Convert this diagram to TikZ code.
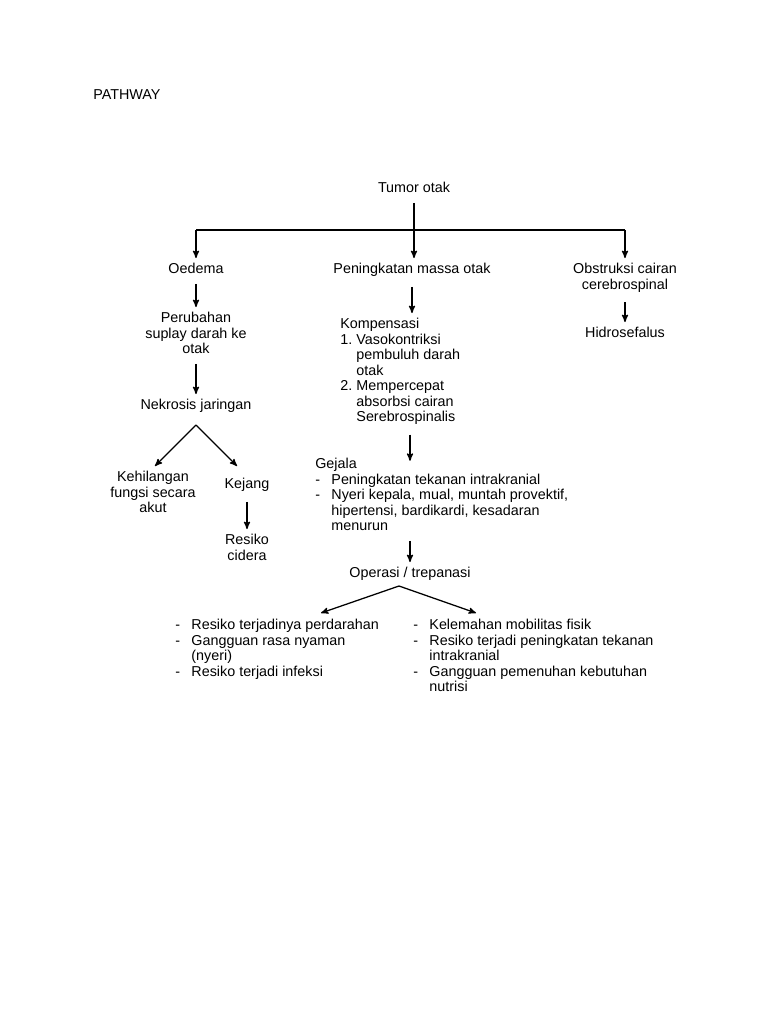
\documentclass[tikz,border=0pt]{standalone}
\usepackage{fontspec}
\setmainfont{Liberation Sans}
\usepackage{tikz}
\usetikzlibrary{positioning,arrows,calc}
\tikzstyle{every text node part}=[font=\fontsize{10.2}{11}\selectfont]
\tikzstyle{txt}=[inner sep=0pt,align=center,anchor=north]
\tikzstyle{lst}=[inner sep=0pt,align=left,anchor=north west]
\tikzstyle{flow}=[->,line width=0.9pt,shorten <=7pt,shorten >=3.5pt]
\tikzstyle{split}=[->,line width=0.9pt]
\newcommand{\listitm}[1]{\makebox[11.5pt][l]{#1}}
\newcommand{\listind}{\makebox[11.5pt]{}}

\begin{document}
\begin{tikzpicture}[x=0.025cm,y=-0.025cm,>=stealth']
      \useasboundingbox (0,0) rectangle (768,1024);

      \node [inner sep=0pt,anchor=west] (pathway) at (93,95) {PATHWAY};

      \node [txt] (tumor) at (414,182) {Tumor otak};
      \node [txt] (oedema) at (196,263) {Oedema};
      \node [txt] (massa) at (412,263) {Peningkatan massa otak};
      \node [txt] (obstruksi) at (625,263) {Obstruksi cairan\\cerebrospinal};

      \node [txt] (perubahan) at (196,312) {Perubahan\\suplay darah ke\\otak};
      \node [txt] (nekrosis) at (196,399) {Nekrosis jaringan};
      \node [txt] (kehilangan) at (153,471) {Kehilangan\\fungsi secara\\akut};
      \node [txt] (kejang) at (247,478) {Kejang};
      \node [txt] (cidera) at (247,534) {Resiko\\cidera};

      \node [txt] (hidro) at (625,327) {Hidrosefalus};

      \node [lst] (kompensasi) at (340,318) {Kompensasi\\
        \listitm{1.}Vasokontriksi\\ \listind pembuluh darah\\ \listind otak\\
        \listitm{2.}Mempercepat\\ \listind absorbsi cairan\\ \listind Serebrospinalis};
      \node [lst] (gejala) at (315,458) {Gejala\\
        \listitm{-}Peningkatan tekanan intrakranial\\
        \listitm{-}Nyeri kepala, mual, muntah provektif,\\
        \listind hipertensi, bardikardi, kesadaran\\ \listind menurun};

      \node [txt] (operasi) at (410,567) {Operasi / trepanasi};
      \node [lst,font=\fontsize{10.2}{10.5}\selectfont] (kiri) at (175,619) {\listitm{-}Resiko terjadinya perdarahan\\
        \listitm{-}Gangguan rasa nyaman\\ \listind (nyeri)\\
        \listitm{-}Resiko terjadi infeksi};
      \node [lst,font=\fontsize{10.2}{10.5}\selectfont] (kanan) at (413,619) {\listitm{-}Kelemahan mobilitas fisik\\
        \listitm{-}Resiko terjadi peningkatan tekanan\\ \listind intrakranial\\
        \listitm{-}Gangguan pemenuhan kebutuhan\\ \listind nutrisi};

      \coordinate (barL) at (196,230);
      \coordinate (barR) at (625,230);
      \coordinate (nsplit) at (196,425);
      \coordinate (nL) at (155,466);
      \coordinate (nR) at (237,466);
      \coordinate (osplit) at (399,586);
      \coordinate (opL) at (321,613);
      \coordinate (opR) at (476,613);

      \draw [line width=0.9pt] (barL) -- (barR);
      \draw [flow] (tumor) -- (tumor |- massa.north);
      \draw [flow,shorten <=0pt] (barL) -- (oedema);
      \draw [flow,shorten <=0pt] (barR) -- (obstruksi);

      \draw [flow] (oedema) -- (perubahan);
      \draw [flow] (perubahan) -- (nekrosis);
      \draw [split] (nsplit) -- (nL);
      \draw [split] (nsplit) -- (nR);
      \draw [flow] (kejang) -- (cidera);

      \draw [flow] (massa) -- (massa |- kompensasi.north);
      \draw [flow] (obstruksi) -- (hidro);
      \draw [flow,shorten >=-2pt] (kompensasi.south -| operasi) -- (gejala.north -| operasi);
      \draw [flow] (gejala.south -| operasi) -- (operasi);

      \draw [split] (osplit) -- (opL);
      \draw [split] (osplit) -- (opR);

    \end{tikzpicture}
\end{document}
